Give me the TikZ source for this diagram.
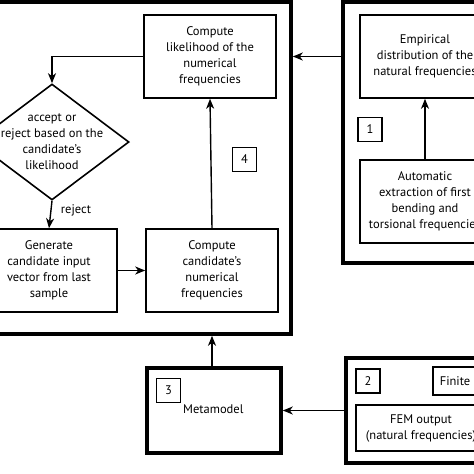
\documentclass[tikz,border=0pt]{standalone}
\usepackage{fontspec}
\setmainfont{PT Sans}
\usetikzlibrary{arrows.meta,shapes.geometric}

\begin{document}
\begin{tikzpicture}[x=1pt, y=-1pt,
    every node/.style={font=\fontsize{12.5}{16}\selectfont, align=center},
    caja/.style={draw, line width=1.6pt, inner sep=2pt},
    grupo/.style={draw, line width=3.6pt, inner sep=0pt},
    numero/.style={draw, line width=1.6pt, minimum size=24pt, inner sep=0pt},
    flecha/.style={-{Stealth[length=10pt,width=8pt,inset=3pt]}, line width=1.4pt}]

  \useasboundingbox (0,0) rectangle (474,474);
  \fill[white] (0,0) rectangle (474,474);
  \clip (0,0) rectangle (474,474);

  % ── Bloques grandes ───────────────────────────────────────
  \node[grupo, minimum width=301pt, minimum height=332pt] (grupoMuestreo) at (140.5,168) {};
  \node[grupo, minimum width=160pt, minimum height=261pt] (grupoMedidas) at (423,132.5) {};
  \node[grupo, minimum width=160pt, minimum height=105pt] (grupoFEM) at (426,410.5) {};
  \node[grupo, minimum width=134pt, minimum height=85pt] (metamodelo) at (214,410.5) {};

  % ── Bloque 4 ──────────────────────────────────────────────
  \node[caja, minimum width=132pt, minimum height=83pt] (verosimilitud) at (210,56.5)
    {Compute\\likelihood of the\\numerical\\frequencies};
  \node[draw, diamond, line width=1.6pt, minimum width=154pt, minimum height=116pt]
    (decision) at (52,142) {};
  \node (decisionTexto) at (decision) {accept or\\reject based on the\\candidate’s\\likelihood};
  \node[caja, minimum width=136pt, minimum height=83pt] (generar) at (49,270.5)
    {Generate\\candidate input\\vector from last\\sample};
  \node[caja, minimum width=132pt, minimum height=83pt] (candidato) at (212,270.5)
    {Compute\\candidate’s\\numerical\\frequencies};
  \node[numero] (num4) at (244.5,159.5) {4};

  % ── Bloque 1 ──────────────────────────────────────────────
  \node[caja, minimum width=130pt, minimum height=83pt] (empirica) at (425,56.5)
    {Empirical\\distribution of the\\natural frequencies};
  \node[caja, minimum width=130pt, minimum height=83pt] (extraccion) at (425,201.5)
    {Automatic\\extraction of first\\bending and\\torsional frequencies};
  \node[numero] (num1) at (370,129.5) {1};

  % ── Bloques 2 y 3 ─────────────────────────────────────────
  \node[numero] (num3) at (168.5,390.5) {3};
  \node[anchor=west, inner sep=0pt] (textoMeta) at (183,409) {Metamodel};
  \node[numero] (num2) at (368,381) {2};
  \node[caja, anchor=west, text width=78pt, inner xsep=7pt, align=left,
        minimum height=28pt] (finito) at (432,381) {Finite};
  \node[caja, minimum width=130pt, minimum height=46pt] (salidaFEM) at (421,428)
    {FEM output\\(natural frequencies)};

  % ── Flechas ───────────────────────────────────────────────
  \draw[flecha] (verosimilitud.west) -| (decision.north);
  \draw[flecha] (decision.south) -- node[right=6pt, pos=0.35] (rechazo) {reject} (generar.north);
  \draw[flecha] (generar.east) -- (candidato.west);
  \draw[flecha] (candidato.north) -- (verosimilitud.south);
  \draw[flecha] (grupoMedidas.west |- empirica.west) -- (grupoMuestreo.east |- empirica.west);
  \draw[flecha] (extraccion.north) -- (empirica.south);
  \draw[flecha] (metamodelo.north -| candidato.south) -- (grupoMuestreo.south -| candidato.south);
  \draw[flecha] (grupoFEM.west) -- (metamodelo.east);

\end{tikzpicture}
\end{document}
